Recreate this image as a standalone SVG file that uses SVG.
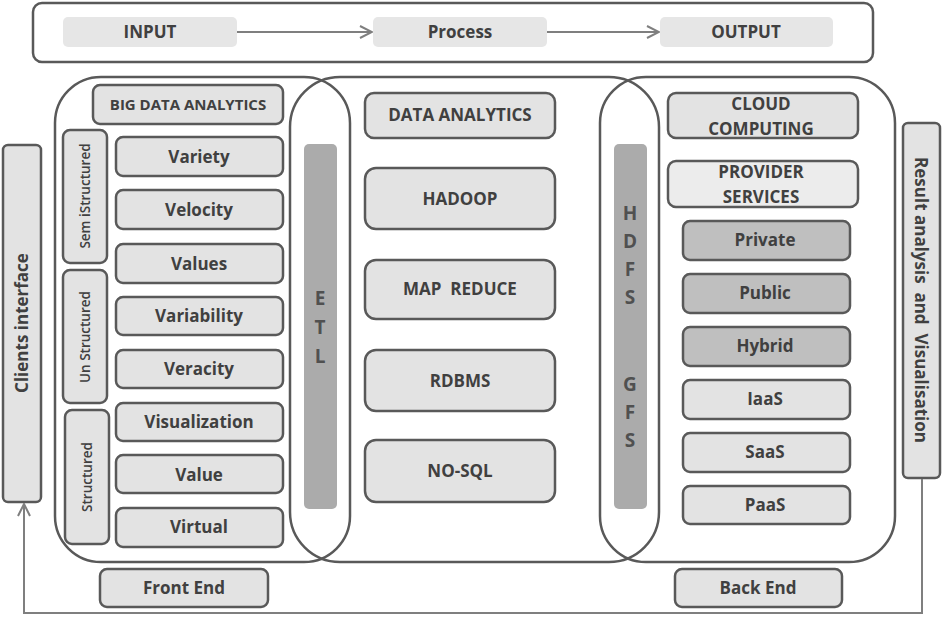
<svg xmlns="http://www.w3.org/2000/svg" width="943" height="617" viewBox="0 0 943 617">
<defs>
<marker id="arr" viewBox="0 0 14 14" refX="13" refY="7" markerWidth="14" markerHeight="14" markerUnits="userSpaceOnUse" orient="auto">
<path d="M1,1 L13,7 L1,13" fill="none" stroke="#7f7f7f" stroke-width="2"/>
</marker>
</defs>
<style>
text{font-family:"Open Sans","Liberation Sans",sans-serif;font-weight:bold;fill:#404040;text-anchor:middle}
.frame{fill:none;stroke:#595959;stroke-width:2.5}
.box{fill:#e3e3e3;stroke:#595959;stroke-width:2.5}
.lbox{fill:#ececec;stroke:#595959;stroke-width:2.5}
.dbox{fill:#bfbfbf;stroke:#595959;stroke-width:2.5}
.flat{fill:#e6e6e6}
.bar{fill:#ababab}
.t17{font-size:17px}
.t15{font-size:15px}
.small{font-size:13.5px;font-weight:600}
.letter{font-size:19px;fill:#505050}
.conn{fill:none;stroke:#7f7f7f;stroke-width:2}
</style>
<rect width="943" height="617" fill="#ffffff"/>

<g id="banner">
<rect class="frame" x="33" y="3" width="840" height="59" rx="9"/>
</g>
<g id="input"><rect class="flat" x="63" y="17" width="174" height="30" rx="5"/><text class="t17" x="150" y="38">INPUT</text></g>
<g id="process"><rect class="flat" x="373" y="17" width="174" height="30" rx="5"/><text class="t17" x="460" y="38">Process</text></g>
<g id="output"><rect class="flat" x="660" y="17" width="173" height="30" rx="5"/><text class="t17" x="746" y="38">OUTPUT</text></g>

<g id="containers">
<rect class="frame" x="55" y="77" width="295" height="485" rx="46"/>
<rect class="frame" x="290" y="77" width="369" height="485" rx="50"/>
<rect class="frame" x="600" y="77" width="295" height="485" rx="46"/>
</g>

<g id="clients"><rect class="box" x="3" y="145" width="38" height="357" rx="5"/><text class="t17" transform="translate(28,323) rotate(-90)">Clients interface</text></g>
<g id="result"><rect class="box" x="903" y="123" width="37" height="355" rx="5"/><text class="t17" transform="translate(915,300) rotate(90)" xml:space="preserve">Result analysis  and  Visualisation</text></g>

<g id="bigdata"><rect class="box" x="93" y="85" width="190" height="39" rx="7"/><text class="t15" x="188" y="110">BIG DATA ANALYTICS</text></g>

<g id="semi"><rect class="box" x="63" y="130" width="44" height="133" rx="7"/><text class="small" transform="translate(90,196) rotate(-90)">Sem iStructured</text></g>
<g id="un"><rect class="box" x="63" y="270" width="44" height="133" rx="7"/><text class="small" transform="translate(90,337) rotate(-90)">Un Structured</text></g>
<g id="structured"><rect class="box" x="65" y="410" width="44" height="134" rx="7"/><text class="small" transform="translate(92,477) rotate(-90)">Structured</text></g>

<g id="variety"><rect class="box" x="116" y="137" width="167" height="39" rx="7"/><text class="t17" x="199" y="163">Variety</text></g>
<g id="velocity"><rect class="box" x="116" y="190" width="167" height="39" rx="7"/><text class="t17" x="199" y="216">Velocity</text></g>
<g id="values"><rect class="box" x="116" y="244" width="167" height="39" rx="7"/><text class="t17" x="199" y="270">Values</text></g>
<g id="variability"><rect class="box" x="116" y="297" width="167" height="38" rx="7"/><text class="t17" x="199" y="322">Variability</text></g>
<g id="veracity"><rect class="box" x="116" y="350" width="167" height="38" rx="7"/><text class="t17" x="199" y="375">Veracity</text></g>
<g id="visualization"><rect class="box" x="116" y="403" width="167" height="38" rx="7"/><text class="t17" x="199" y="428">Visualization</text></g>
<g id="value"><rect class="box" x="116" y="455" width="167" height="38" rx="7"/><text class="t17" x="199" y="481">Value</text></g>
<g id="virtual"><rect class="box" x="116" y="508" width="167" height="39" rx="7"/><text class="t17" x="199" y="533">Virtual</text></g>

<g id="etl"><rect class="bar" x="304" y="144" width="33" height="365" rx="5"/>
<text class="letter" x="320" y="305">E</text><text class="letter" x="320" y="334">T</text><text class="letter" x="320" y="363">L</text></g>

<g id="dataanalytics"><rect class="box" x="365" y="93" width="190" height="45" rx="9"/><text class="t17" x="460" y="121">DATA ANALYTICS</text></g>
<g id="hadoop"><rect class="box" x="365" y="168" width="190" height="61" rx="11"/><text class="t17" x="460" y="205">HADOOP</text></g>
<g id="mapreduce"><rect class="box" x="365" y="260" width="190" height="59" rx="11"/><text class="t17" x="460" y="295" xml:space="preserve">MAP  REDUCE</text></g>
<g id="rdbms"><rect class="box" x="365" y="350" width="190" height="61" rx="11"/><text class="t17" x="460" y="387">RDBMS</text></g>
<g id="nosql"><rect class="box" x="365" y="440" width="190" height="62" rx="11"/><text class="t17" x="460" y="477">NO-SQL</text></g>

<g id="hdfs"><rect class="bar" x="614" y="144" width="33" height="365" rx="5"/>
<text class="letter" x="630" y="220">H</text><text class="letter" x="630" y="248">D</text><text class="letter" x="630" y="276">F</text><text class="letter" x="630" y="304">S</text>
<text class="letter" x="630" y="391">G</text><text class="letter" x="630" y="419">F</text><text class="letter" x="630" y="447">S</text></g>

<g id="cloud"><rect class="box" x="668" y="93" width="190" height="45" rx="8"/><text class="t17" x="761" y="110">CLOUD</text><text class="t17" x="761" y="135">COMPUTING</text></g>
<g id="provider"><rect class="lbox" x="668" y="161" width="190" height="46" rx="8"/><text class="t17" x="761" y="178">PROVIDER</text><text class="t17" x="761" y="203">SERVICES</text></g>
<g id="private"><rect class="dbox" x="683" y="221" width="167" height="39" rx="7"/><text class="t17" x="765" y="246">Private</text></g>
<g id="public"><rect class="dbox" x="683" y="274" width="167" height="39" rx="7"/><text class="t17" x="765" y="299">Public</text></g>
<g id="hybrid"><rect class="dbox" x="683" y="327" width="167" height="39" rx="7"/><text class="t17" x="765" y="352">Hybrid</text></g>
<g id="iaas"><rect class="box" x="683" y="380" width="167" height="39" rx="7"/><text class="t17" x="765" y="405">IaaS</text></g>
<g id="saas"><rect class="box" x="683" y="433" width="167" height="39" rx="7"/><text class="t17" x="765" y="458">SaaS</text></g>
<g id="paas"><rect class="box" x="683" y="486" width="167" height="38" rx="7"/><text class="t17" x="765" y="511">PaaS</text></g>

<g id="frontend"><rect class="box" x="100" y="569" width="168" height="38" rx="7"/><text class="t17" x="184" y="594">Front End</text></g>
<g id="backend"><rect class="box" x="675" y="569" width="167" height="38" rx="7"/><text class="t17" x="758" y="594">Back End</text></g>

<g id="connectors">
<line class="conn" x1="237" y1="32" x2="372" y2="32" marker-end="url(#arr)"/>
<line class="conn" x1="547" y1="32" x2="659" y2="32" marker-end="url(#arr)"/>
<polyline class="conn" points="922,479 922,613 24,613 24,504" marker-end="url(#arr)"/>
</g>
</svg>
